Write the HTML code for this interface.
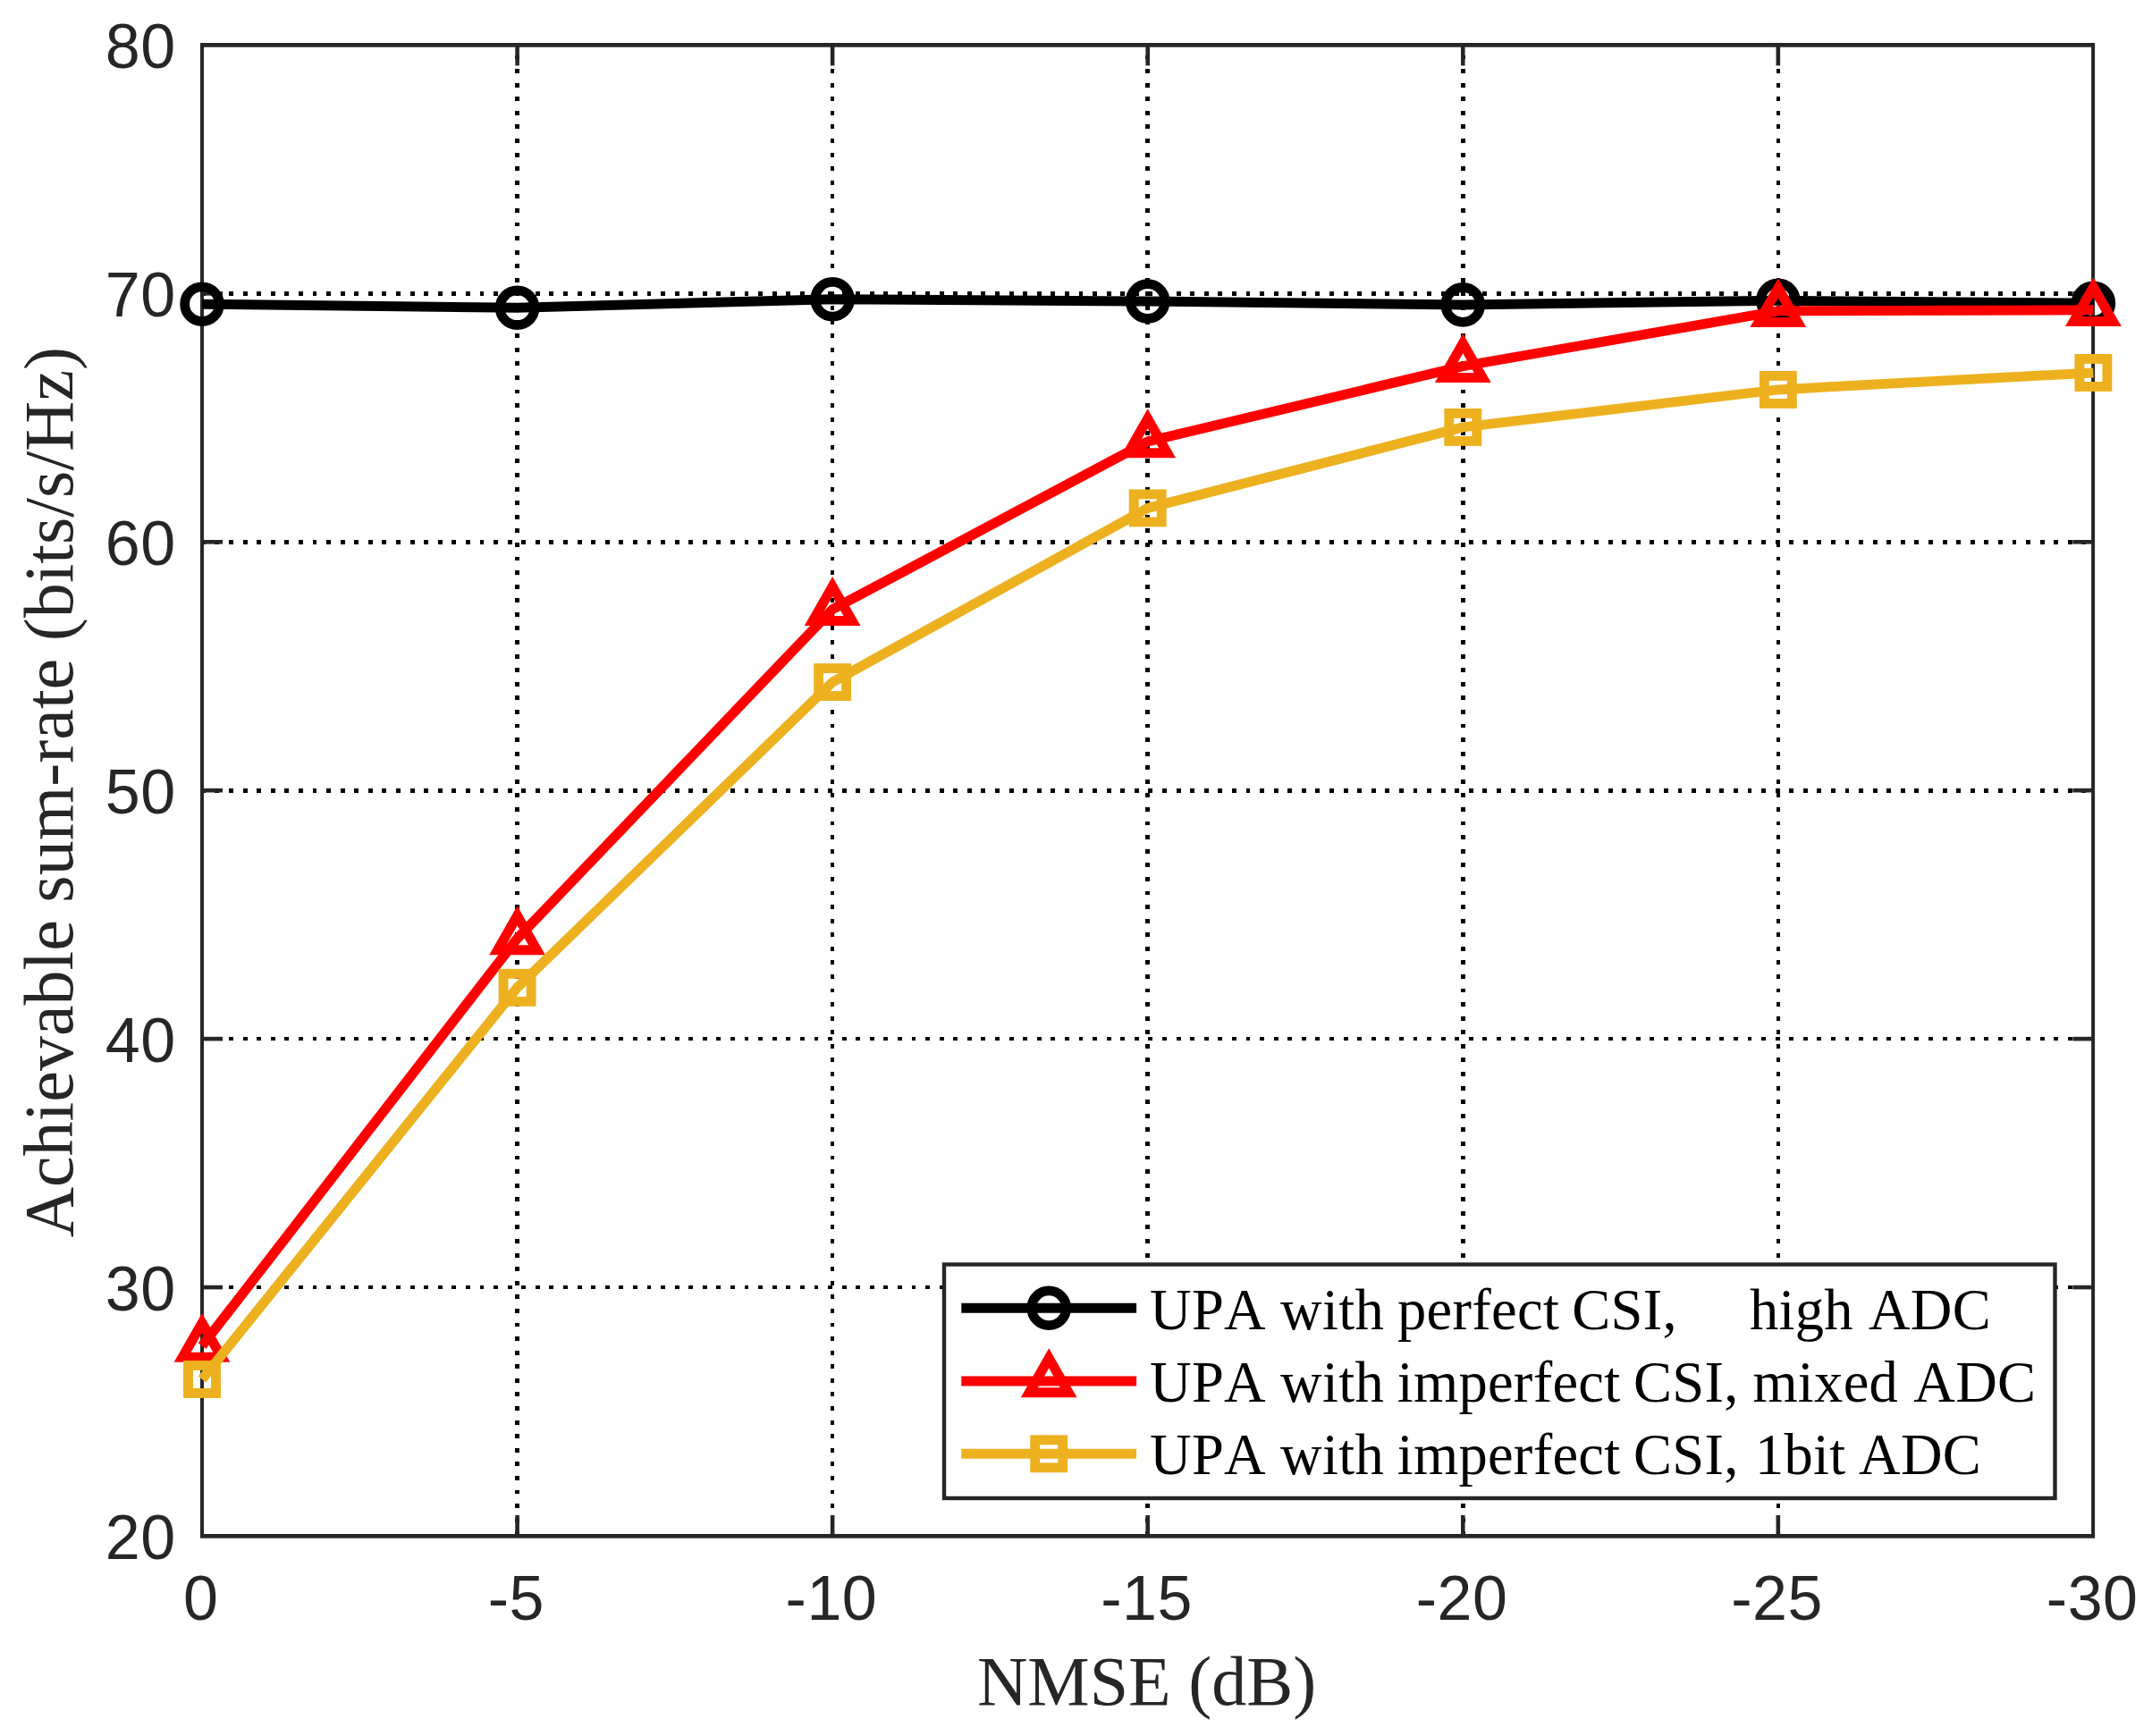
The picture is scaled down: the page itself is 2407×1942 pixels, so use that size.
<!DOCTYPE html>
<html lang="en"><head><meta charset="utf-8"><title>Achievable sum-rate vs NMSE</title>
<style>html,body{margin:0;padding:0;background:#fff}text{font-kerning:none;font-variant-ligatures:none}svg{display:block}.tk{font-family:"Liberation Sans",Arial,Helvetica,sans-serif;font-size:70px;letter-spacing:0.5px;fill:#262626}.lb{font-family:"Liberation Serif","Times New Roman",Times,serif;font-size:78px;fill:#262626}.lg{font-family:"Liberation Serif","Times New Roman",Times,serif;font-size:64.5px;letter-spacing:0.3px;fill:#000;white-space:pre}</style></head><body>
<svg width="2407" height="1942" viewBox="0 0 2407 1942">
<rect x="0" y="0" width="2407" height="1942" fill="#fff"/>
<g stroke="#000" stroke-width="4.6" fill="none" stroke-dasharray="4.9 10.682" shape-rendering="crispEdges">
<line x1="578.57" y1="50.4" x2="578.57" y2="1718.0" stroke-dashoffset="4.4"/>
<line x1="931.13" y1="50.4" x2="931.13" y2="1718.0" stroke-dashoffset="4.4"/>
<line x1="1283.70" y1="50.4" x2="1283.70" y2="1718.0" stroke-dashoffset="4.4"/>
<line x1="1636.27" y1="50.4" x2="1636.27" y2="1718.0" stroke-dashoffset="4.4"/>
<line x1="1988.83" y1="50.4" x2="1988.83" y2="1718.0" stroke-dashoffset="4.4"/>
<line x1="226.0" y1="1440.07" x2="2341.4" y2="1440.07" stroke-dashoffset="1.1"/>
<line x1="226.0" y1="1162.13" x2="2341.4" y2="1162.13" stroke-dashoffset="1.1"/>
<line x1="226.0" y1="884.20" x2="2341.4" y2="884.20" stroke-dashoffset="1.1"/>
<line x1="226.0" y1="606.27" x2="2341.4" y2="606.27" stroke-dashoffset="1.1"/>
<line x1="226.0" y1="328.33" x2="2341.4" y2="328.33" stroke-dashoffset="1.1"/>
</g>
<g stroke="#262626" fill="none" stroke-linecap="butt">
<line x1="224.0" y1="50.4" x2="2343.1" y2="50.4" stroke-width="4.8"/>
<line x1="224.0" y1="1718.3" x2="2343.1" y2="1718.3" stroke-width="4.8"/>
<line x1="226.0" y1="50.4" x2="226.0" y2="1718.0" stroke-width="4.0"/>
<line x1="2341.1" y1="50.4" x2="2341.1" y2="1718.0" stroke-width="4.0"/>
<line x1="578.57" y1="1718.0" x2="578.57" y2="1695.0" stroke-width="4.6"/>
<line x1="578.57" y1="50.4" x2="578.57" y2="73.4" stroke-width="4.6"/>
<line x1="931.13" y1="1718.0" x2="931.13" y2="1695.0" stroke-width="4.6"/>
<line x1="931.13" y1="50.4" x2="931.13" y2="73.4" stroke-width="4.6"/>
<line x1="1283.70" y1="1718.0" x2="1283.70" y2="1695.0" stroke-width="4.6"/>
<line x1="1283.70" y1="50.4" x2="1283.70" y2="73.4" stroke-width="4.6"/>
<line x1="1636.27" y1="1718.0" x2="1636.27" y2="1695.0" stroke-width="4.6"/>
<line x1="1636.27" y1="50.4" x2="1636.27" y2="73.4" stroke-width="4.6"/>
<line x1="1988.83" y1="1718.0" x2="1988.83" y2="1695.0" stroke-width="4.6"/>
<line x1="1988.83" y1="50.4" x2="1988.83" y2="73.4" stroke-width="4.6"/>
<line x1="226.0" y1="1440.07" x2="249.0" y2="1440.07" stroke-width="4.6"/>
<line x1="2341.4" y1="1440.07" x2="2318.4" y2="1440.07" stroke-width="4.6"/>
<line x1="226.0" y1="1162.13" x2="249.0" y2="1162.13" stroke-width="4.6"/>
<line x1="2341.4" y1="1162.13" x2="2318.4" y2="1162.13" stroke-width="4.6"/>
<line x1="226.0" y1="884.20" x2="249.0" y2="884.20" stroke-width="4.6"/>
<line x1="2341.4" y1="884.20" x2="2318.4" y2="884.20" stroke-width="4.6"/>
<line x1="226.0" y1="606.27" x2="249.0" y2="606.27" stroke-width="4.6"/>
<line x1="2341.4" y1="606.27" x2="2318.4" y2="606.27" stroke-width="4.6"/>
<line x1="226.0" y1="328.33" x2="249.0" y2="328.33" stroke-width="4.6"/>
<line x1="2341.4" y1="328.33" x2="2318.4" y2="328.33" stroke-width="4.6"/>
</g>
<polyline points="226.00,340.20 578.57,344.30 931.13,334.80 1283.70,337.00 1636.27,340.90 1988.83,336.30 2341.40,339.20" fill="none" stroke="#000000" stroke-width="11.0" stroke-linejoin="round" stroke-linecap="butt"/>
<circle cx="226.00" cy="340.20" r="19.4" fill="none" stroke="#000000" stroke-width="10.8"/>
<circle cx="578.57" cy="344.30" r="19.4" fill="none" stroke="#000000" stroke-width="10.8"/>
<circle cx="931.13" cy="334.80" r="19.4" fill="none" stroke="#000000" stroke-width="10.8"/>
<circle cx="1283.70" cy="337.00" r="19.4" fill="none" stroke="#000000" stroke-width="10.8"/>
<circle cx="1636.27" cy="340.90" r="19.4" fill="none" stroke="#000000" stroke-width="10.8"/>
<circle cx="1988.83" cy="336.30" r="19.4" fill="none" stroke="#000000" stroke-width="10.8"/>
<circle cx="2341.40" cy="339.20" r="19.4" fill="none" stroke="#000000" stroke-width="10.8"/>
<polyline points="226.00,1505.60 578.57,1049.90 931.13,681.70 1283.70,493.90 1636.27,409.70 1988.83,347.80 2341.40,346.80" fill="none" stroke="#ff0000" stroke-width="11.0" stroke-linejoin="round" stroke-linecap="butt"/>
<polygon points="226.00,1480.07 247.90,1518.37 204.10,1518.37" fill="none" stroke="#ff0000" stroke-width="11" stroke-linejoin="miter" stroke-miterlimit="10"/>
<polygon points="578.57,1024.37 600.47,1062.67 556.67,1062.67" fill="none" stroke="#ff0000" stroke-width="11" stroke-linejoin="miter" stroke-miterlimit="10"/>
<polygon points="931.13,656.17 953.03,694.47 909.23,694.47" fill="none" stroke="#ff0000" stroke-width="11" stroke-linejoin="miter" stroke-miterlimit="10"/>
<polygon points="1283.70,468.37 1305.60,506.67 1261.80,506.67" fill="none" stroke="#ff0000" stroke-width="11" stroke-linejoin="miter" stroke-miterlimit="10"/>
<polygon points="1636.27,384.17 1658.17,422.47 1614.37,422.47" fill="none" stroke="#ff0000" stroke-width="11" stroke-linejoin="miter" stroke-miterlimit="10"/>
<polygon points="1988.83,322.27 2010.73,360.57 1966.93,360.57" fill="none" stroke="#ff0000" stroke-width="11" stroke-linejoin="miter" stroke-miterlimit="10"/>
<polygon points="2341.40,321.27 2363.30,359.57 2319.50,359.57" fill="none" stroke="#ff0000" stroke-width="11" stroke-linejoin="miter" stroke-miterlimit="10"/>
<polyline points="226.00,1543.00 578.57,1104.80 931.13,763.10 1283.70,568.40 1636.27,477.90 1988.83,435.90 2341.40,417.00" fill="none" stroke="#edb120" stroke-width="11.0" stroke-linejoin="round" stroke-linecap="butt"/>
<rect x="210.50" y="1527.50" width="31.0" height="31.0" fill="none" stroke="#edb120" stroke-width="10.9" stroke-linejoin="miter"/>
<rect x="563.07" y="1089.30" width="31.0" height="31.0" fill="none" stroke="#edb120" stroke-width="10.9" stroke-linejoin="miter"/>
<rect x="915.63" y="747.60" width="31.0" height="31.0" fill="none" stroke="#edb120" stroke-width="10.9" stroke-linejoin="miter"/>
<rect x="1268.20" y="552.90" width="31.0" height="31.0" fill="none" stroke="#edb120" stroke-width="10.9" stroke-linejoin="miter"/>
<rect x="1620.77" y="462.40" width="31.0" height="31.0" fill="none" stroke="#edb120" stroke-width="10.9" stroke-linejoin="miter"/>
<rect x="1973.33" y="420.40" width="31.0" height="31.0" fill="none" stroke="#edb120" stroke-width="10.9" stroke-linejoin="miter"/>
<rect x="2325.90" y="401.50" width="31.0" height="31.0" fill="none" stroke="#edb120" stroke-width="10.9" stroke-linejoin="miter"/>
<rect x="1056.0" y="1414.5" width="1242.50" height="261.50" fill="#fff" stroke="#262626" stroke-width="4.4"/>
<line x1="1075.3" y1="1463.3" x2="1271.1" y2="1463.3" stroke="#000000" stroke-width="11.0"/>
<circle cx="1173.20" cy="1463.30" r="19.4" fill="none" stroke="#000000" stroke-width="10.8"/>
<line x1="1075.3" y1="1544.9" x2="1271.1" y2="1544.9" stroke="#ff0000" stroke-width="11.0"/>
<polygon points="1173.20,1519.37 1195.10,1557.67 1151.30,1557.67" fill="none" stroke="#ff0000" stroke-width="11" stroke-linejoin="miter" stroke-miterlimit="10"/>
<line x1="1075.3" y1="1626.3" x2="1271.1" y2="1626.3" stroke="#edb120" stroke-width="11.0"/>
<rect x="1157.70" y="1610.80" width="31.0" height="31.0" fill="none" stroke="#edb120" stroke-width="10.9" stroke-linejoin="miter"/>
<text class="lg" y="1486.6"><tspan x="1286.0">UPA</tspan> <tspan x="1432.1">with</tspan> <tspan x="1563.0">perfect</tspan> <tspan x="1758.3">CSI,</tspan> <tspan x="1957.0">high</tspan> <tspan x="2089.9">ADC</tspan></text>
<text class="lg" y="1567.6"><tspan x="1286.0">UPA</tspan> <tspan x="1432.1">with</tspan> <tspan x="1562.7">imperfect</tspan> <tspan x="1826.9">CSI,</tspan> <tspan x="1960.4">mixed</tspan> <tspan x="2140.3">ADC</tspan></text>
<text class="lg" y="1649.3"><tspan x="1286.0">UPA</tspan> <tspan x="1432.1">with</tspan> <tspan x="1562.7">imperfect</tspan> <tspan x="1826.9">CSI,</tspan> <tspan x="1962.9">1bit</tspan> <tspan x="2079.1">ADC</tspan></text>
<text class="tk" x="224.80" y="1811.9" text-anchor="middle">0</text>
<text class="tk" x="577.37" y="1811.9" text-anchor="middle">-5</text>
<text class="tk" x="929.93" y="1811.9" text-anchor="middle">-10</text>
<text class="tk" x="1282.50" y="1811.9" text-anchor="middle">-15</text>
<text class="tk" x="1635.07" y="1811.9" text-anchor="middle">-20</text>
<text class="tk" x="1987.63" y="1811.9" text-anchor="middle">-25</text>
<text class="tk" x="2340.20" y="1811.9" text-anchor="middle">-30</text>
<text class="tk" x="196.7" y="1743.60" text-anchor="end">20</text>
<text class="tk" x="196.7" y="1465.67" text-anchor="end">30</text>
<text class="tk" x="196.7" y="1187.73" text-anchor="end">40</text>
<text class="tk" x="196.7" y="909.80" text-anchor="end">50</text>
<text class="tk" x="196.7" y="631.87" text-anchor="end">60</text>
<text class="tk" x="196.7" y="353.93" text-anchor="end">70</text>
<text class="tk" x="196.7" y="76.00" text-anchor="end">80</text>
<text class="lb" x="1282.60" y="1907.2" text-anchor="middle">NMSE (dB)</text>
<text class="lb" transform="translate(81.2,886.20) rotate(-90)" text-anchor="middle">Achievable sum-rate (bits/s/Hz)</text>
</svg></body></html>
